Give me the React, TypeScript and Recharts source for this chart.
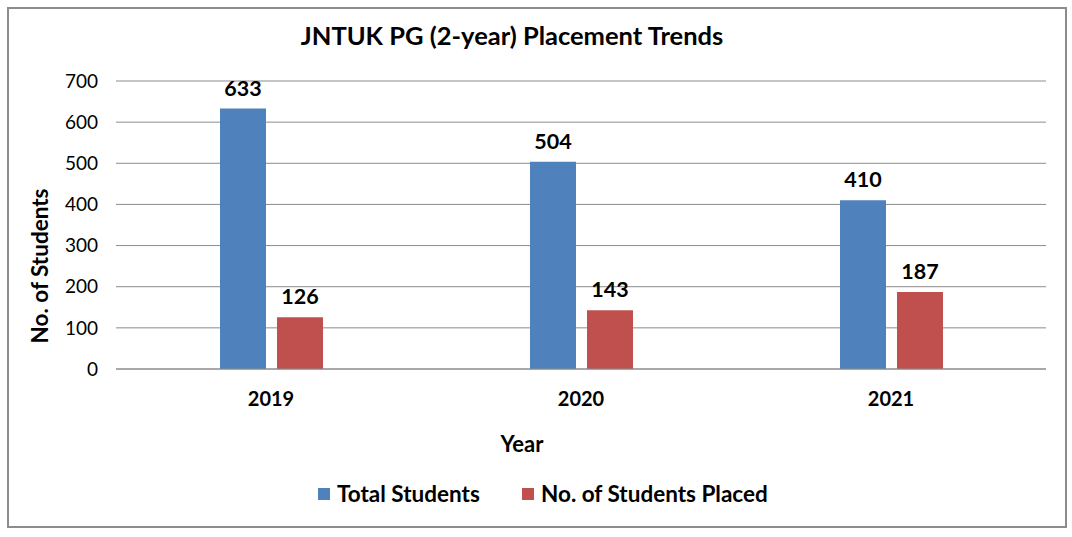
import React from "react";
import { BarChart, Bar, XAxis, YAxis, CartesianGrid, LabelList, Label } from "recharts";

const years = ["2019", "2020", "2021"];
const totalStudents = [633, 504, 410];
const studentsPlaced = [126, 143, 187];
const yTicks = [0, 100, 200, 300, 400, 500, 600, 700];

const data = years.map((y, i) => ({ year: y, total: totalStudents[i], placed: studentsPlaced[i] }));

const FONT = "Lato, 'Open Sans', sans-serif";
const BLUE = "#4F81BD";
const RED = "#C0504D";

export default function App() {
  return (
    <div style={{ position: "absolute", left: 0, top: 0, width: 1072, height: 537, background: "#fff", fontFamily: FONT }}>
      <div style={{ position: "absolute", left: 7, top: 7, width: 1056, height: 517, border: "2px solid #8c8c8c" }} />
      <div style={{ position: "absolute", left: 0, top: 0 }}>
        <BarChart
          width={1072}
          height={537}
          data={data}
          margin={{ top: 81, right: 26, bottom: 138, left: 0 }}
          barGap={11}
          barSize={46}
        >
          <text x={512} y={45} textAnchor="middle" fontSize={25.5} fontWeight={700} fill="#000" fontFamily={FONT}>
            JNTUK PG (2-year) Placement Trends
          </text>
          <CartesianGrid vertical={false} stroke="#8c8c8c" />
          <XAxis
            dataKey="year"
            height={30}
            tickLine={false}
            axisLine={{ stroke: "#8c8c8c" }}
            tickMargin={17}
            tick={{ fontSize: 20, fontWeight: 700, fill: "#000", fontFamily: FONT }}
          >
            <Label
              content={() => (
                <text x={522} y={452} textAnchor="middle" fontSize={22} fontWeight={700} fill="#000" fontFamily={FONT}>
                  Year
                </text>
              )}
            />
          </XAxis>
          <YAxis
            domain={[0, 700]}
            ticks={yTicks}
            axisLine={false}
            tickLine={false}
            tickSize={0}
            tickMargin={18}
            width={116}
            tick={{ fontSize: 19, fill: "#000", fontFamily: FONT }}
          >
            <Label
              content={() => (
                <text
                  x={48}
                  y={266}
                  textAnchor="middle"
                  fontSize={22.5}
                  fontWeight={700}
                  fill="#000"
                  fontFamily={FONT}
                  transform="rotate(-90 48 266)"
                >
                  No. of Students
                </text>
              )}
            />
          </YAxis>
          <Bar dataKey="total" fill={BLUE} isAnimationActive={false}>
            <LabelList dataKey="total" position="top" offset={13} style={{ fontSize: 21.5, fontWeight: 700, fill: "#000", fontFamily: FONT }} />
          </Bar>
          <Bar dataKey="placed" fill={RED} isAnimationActive={false}>
            <LabelList dataKey="placed" position="top" offset={13} style={{ fontSize: 21.5, fontWeight: 700, fill: "#000", fontFamily: FONT }} />
          </Bar>
          <rect x={318} y={488} width={12} height={12} fill={BLUE} />
          <text x={337} y={502} fontSize={22.5} fontWeight={700} fill="#000" fontFamily={FONT}>Total Students</text>
          <rect x={522} y={488} width={12} height={12} fill={RED} />
          <text x={541} y={502} fontSize={22.5} fontWeight={700} fill="#000" fontFamily={FONT}>No. of Students Placed</text>
        </BarChart>
      </div>
    </div>
  );
}
